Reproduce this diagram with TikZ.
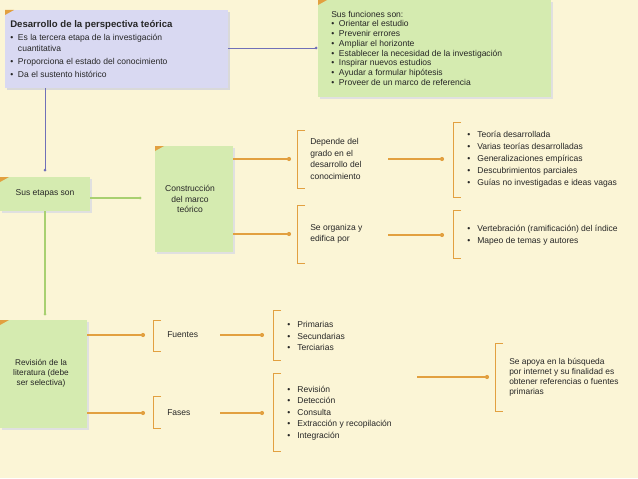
\documentclass[tikz,border=0pt]{standalone}
\usepackage{fontspec}
\setmainfont{Liberation Sans}
\definecolor{bg}{HTML}{FBF5D6}
\definecolor{lav}{HTML}{D9D9F2}
\definecolor{grn}{HTML}{D5EBB0}
\definecolor{org}{HTML}{E2A040}
\definecolor{pur}{HTML}{7070B8}
\definecolor{lgr}{HTML}{A8D070}
\newcommand{\fs}[2]{\fontsize{#1}{#2}\selectfont}
\begin{document}
\begin{tikzpicture}[x=0.75pt,y=-0.75pt,
  every node/.style={font=\fs{6.4}{8.3}, text=black!85},
  box/.style={draw=none, inner sep=0pt},
  lst/.style={align=left, anchor=west, inner sep=0pt},
  olink/.style={draw=org, thick},
  odot/.style={fill=org, circle, inner sep=1.1pt},
  brk/.style={draw=org, thin}]
\fill[bg] (0,0) rectangle (638,478);
\useasboundingbox (0,0) rectangle (638,478);
\newcommand{\corner}[2]{\fill[org] (#1,#2) -- ++(9,0) -- ++(-9,5) -- cycle;}
\newcommand{\bracket}[3]{\draw[brk] (#1+8,#2) -- (#1,#2) -- (#1,#3) -- (#1+8,#3);}
% top box
\fill[black!15] (7,12) rectangle (230,90);
\fill[lav] (5,10) rectangle (228,88);
\node[box] (top) at (116.5,49) {};
\corner{5}{10}
\node[lst] at (10,25) {\bfseries\fs{7.2}{8.5}Desarrollo de la perspectiva teórica};
\node[lst, anchor=north west, font=\fs{6.4}{8.1}] at (10,33) {\begin{tabular}{@{}l@{\ \ }l@{}}\textbullet & Es la tercera etapa de la investigación\\ & cuantitativa\\[1.5pt] \textbullet & Proporciona el estado del conocimiento\\[1.5pt] \textbullet & Da el sustento histórico\end{tabular}};
% functions box
\fill[black!12] (320,2) rectangle (553,99);
\fill[grn] (318,0) rectangle (551,97);
\corner{318}{0}
\node[box] (func) at (434,48) {};
\node[lst, anchor=north west, font=\fs{6.4}{7.3}] at (331,10) {\begin{tabular}{@{}l@{\ \ }l@{}}\multicolumn{2}{@{}l}{Sus funciones son:}\\ \textbullet & Orientar el estudio\\ \textbullet & Prevenir errores\\ \textbullet & Ampliar el horizonte\\ \textbullet & Establecer la necesidad de la investigación\\ \textbullet & Inspirar nuevos estudios\\ \textbullet & Ayudar a formular hipótesis\\ \textbullet & Proveer de un marco de referencia\end{tabular}};
\coordinate (f1) at (316,48);
\draw[pur, thin] (228,48) -- (f1);
\fill[pur] (f1) circle (1.5);
\coordinate (v1) at (45,170);
\draw[pur] (45,88) -- (v1);
\fill[pur] (v1) circle (1.5);
% Sus etapas
\fill[black!12] (2,179) rectangle (92,213);
\fill[grn] (0,177) rectangle (90,211);
\corner{0}{177}
\node (etapas) at (45,193) {Sus etapas son};
\coordinate (e1) at (140,198);
\draw[lgr, thick] (90,198) -- (e1);
\fill[lgr] (e1) circle (1.5);
% Construccion
\fill[black!12] (157,148) rectangle (235,254);
\fill[grn] (155,146) rectangle (233,252);
\corner{155}{146}
\node[align=center, font=\fs{6.4}{7.6}] (cons) at (190,199) {Construcción\\del marco\\teórico};
\draw[olink] (233,159) -- (289,159) node[odot]{};
\draw[olink] (233,234) -- (289,234) node[odot]{};
\bracket{297}{130}{188}
\node[lst, font=\fs{6.4}{8.6}] (dep) at (310,159) {Depende del\\grado en el\\desarrollo del\\conocimiento};
\draw[olink] (388,159) -- (442,159) node[odot]{};
\bracket{453}{122}{197}
\node[lst, font=\fs{6.4}{9}] (teo) at (467,159) {\begin{tabular}{@{}l@{\ \ \ }l@{}}\textbullet & Teoría desarrollada\\ \textbullet & Varias teorías desarrolladas\\ \textbullet & Generalizaciones empíricas\\ \textbullet & Descubrimientos parciales\\ \textbullet & Guías no investigadas e ideas vagas\end{tabular}};
\bracket{297}{205}{263}
\node[lst, font=\fs{6.4}{8.3}] (orgz) at (310,234) {Se organiza y\\edifica por};
\draw[olink] (388,235) -- (442,235) node[odot]{};
\bracket{453}{210}{258}
\node[lst, font=\fs{6.4}{9.5}] (vert) at (467,235) {\begin{tabular}{@{}l@{\ \ \ }l@{}}\textbullet & Vertebración (ramificación) del índice\\ \textbullet & Mapeo de temas y autores\end{tabular}};
% Revision
\coordinate (v2) at (45,314);
\draw[lgr, thick] (45,211) -- (v2);
\fill[lgr] (v2) circle (1.5);
\fill[black!12] (2,322) rectangle (89,430);
\fill[grn] (0,320) rectangle (87,428);
\corner{0}{320}
\node[align=center, font=\fs{6.2}{7.6}] (rev) at (41,373) {Revisión de la\\literatura (debe\\ser selectiva)};
\draw[olink] (87,335) -- (143,335) node[odot]{};
\draw[olink] (87,413) -- (143,413) node[odot]{};
\bracket{153}{320}{351}
\node[lst] (fue) at (167,335) {Fuentes};
\bracket{153}{396}{428}
\node[lst] (fas) at (167,413) {Fases};
\draw[olink] (220,335) -- (262,335) node[odot]{};
\draw[olink] (220,413) -- (262,413) node[odot]{};
\bracket{273}{310}{360}
\node[lst, font=\fs{6.4}{8.6}] (pri) at (287,337) {\begin{tabular}{@{}l@{\ \ \ }l@{}}\textbullet & Primarias\\ \textbullet & Secundarias\\ \textbullet & Terciarias\end{tabular}};
\bracket{273}{373}{451}
\node[lst, font=\fs{6.4}{8.7}] (revi) at (287,413) {\begin{tabular}{@{}l@{\ \ \ }l@{}}\textbullet & Revisión\\ \textbullet & Detección\\ \textbullet & Consulta\\ \textbullet & Extracción y recopilación\\ \textbullet & Integración\end{tabular}};
\draw[olink] (417,377) -- (487,377) node[odot]{};
\bracket{495}{343}{411}
\node[lst, font=\fs{6.3}{7.6}] (apo) at (509,377) {Se apoya en la búsqueda\\por internet y su finalidad es\\obtener referencias o fuentes\\primarias};
\end{tikzpicture}
\end{document}
